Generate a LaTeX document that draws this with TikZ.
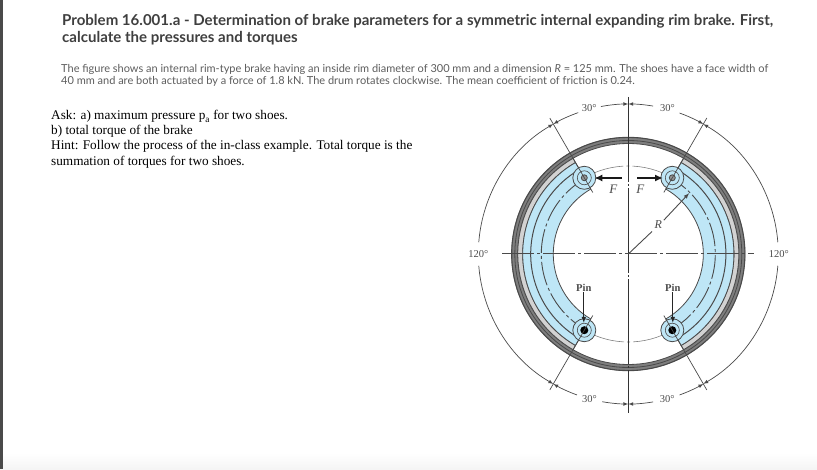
\documentclass[tikz,border=0pt]{standalone}
\usepackage{fontspec}
\setmainfont{Liberation Serif}
\newfontfamily\headfont{Lato}
\usetikzlibrary{arrows.meta}
\definecolor{shoeblue}{HTML}{BEE6F6}
\definecolor{rimgray}{HTML}{7E7E7E}
\definecolor{liningray}{HTML}{D2D2D2}
\definecolor{linegray}{HTML}{4A4A4A}
\definecolor{headgray}{HTML}{3F3F3F}
\tikzset{
  headtext/.style={anchor=base west, inner sep=0pt, text=headgray, font=\headfont\bfseries\fontsize{15.04}{17}\selectfont},
  bodytext/.style={anchor=base west, inner sep=0pt, text=headgray!85, font=\headfont\fontsize{11}{12}\selectfont},
  asktext/.style={anchor=base west, inner sep=0pt, text=black, font=\fontsize{13.25}{15}\selectfont},
  dimtext/.style={inner sep=0pt, text=linegray, font=\fontsize{10.5}{12}\selectfont},
  dimline/.style={draw=linegray, line width=0.7pt, >=latex},
  centerline/.style={draw=linegray, line width=1pt},
  shoeedge/.style={draw=linegray, line width=0.8pt},
  forcearrow/.style={black!90, line width=1.8pt, -{Latex[length=8pt,width=7pt]}},
  pinarrow/.style={draw=black!85, line width=0.9pt, -{Latex[length=6pt,width=4.5pt]}},
}
\begin{document}
\begin{tikzpicture}[x=1pt, y=1pt]
\useasboundingbox (0,0) rectangle (817,469);
\shade[top color=white, bottom color=black!4] (0,0) rectangle (817,16);
\fill[linegray] (0,0) rectangle (3,469);
% texts on the left
\node[headtext] (title1) at (62,443) {Problem 16.001.a - Determination of brake parameters for a symmetric internal expanding rim brake. First,};
\node[headtext] (title2) at (62,426) {calculate the pressures and torques};
\node[bodytext] (body1) at (61,396.5) {The figure shows an internal rim-type brake having an inside rim diameter of 300 mm and a dimension \textit{R} = 125 mm. The shoes have a face width of};
\node[bodytext] (body2) at (61,384) {40 mm and are both actuated by a force of 1.8 kN. The drum rotates clockwise. The mean coefficient of friction is 0.24.};
\node[asktext] (ask1) at (51,349) {Ask: a) maximum pressure p\textsubscript{a} for two shoes.};
\node[asktext] (ask2) at (51,334.5) {b) total torque of the brake};
\node[asktext] (ask3) at (51,319) {Hint: Follow the process of the in-class example. Total torque is the};
\node[asktext] (ask4) at (51,303.5) {summation of torques for two shoes.};
% the brake, polar coordinates round the drum centre
\begin{scope}[shift={(628.3,215)}]
\coordinate (center) at (0,0);
\coordinate (pinTL) at (120:88);
\coordinate (pinTR) at (60:88);
\coordinate (pinBL) at (240:88);
\coordinate (pinBR) at (-60:88);
% rim
\fill[rimgray, even odd rule] (0,0) circle (117) (0,0) circle (110.5);
\draw[linegray, line width=1.1pt] (0,0) circle (116.6);
\draw[linegray, line width=0.8pt] (0,0) circle (113.5);
\draw[linegray, line width=0.8pt] (0,0) circle (110.5);
% linings and shoes
\draw[shoeedge, fill=liningray] (120:105.6) arc (120:240:105.6) -- (240:110.5) arc (240:120:110.5) -- cycle;
\draw[shoeedge, fill=liningray] (-60:105.6) arc (-60:60:105.6) -- (60:110.5) arc (60:-60:110.5) -- cycle;
\draw[shoeedge, fill=shoeblue] (120:75) arc (120:240:75) -- (240:105.6) arc (240:120:105.6) -- cycle;
\draw[shoeedge, fill=shoeblue] (-60:75) arc (-60:60:75) -- (60:105.6) arc (60:-60:105.6) -- cycle;
\draw[shoeedge, line width=1pt] (120:97.6) arc (120:240:97.6);
\draw[shoeedge, line width=1pt] (-60:97.6) arc (-60:60:97.6);
\draw[dimline, line width=0.9pt, dash pattern=on 24pt off 3pt on 3pt off 3pt] (120:87) arc (120:240:87);
\draw[dimline, line width=0.9pt, dash pattern=on 24pt off 3pt on 3pt off 3pt] (-60:87) arc (-60:60:87);
% pitch circle between the pins
\draw[draw=linegray!70, line width=0.6pt, dash pattern=on 42pt off 3pt on 3pt off 3pt] (pinTR) arc (60:120:88);
\draw[draw=linegray!70, line width=0.6pt, dash pattern=on 42pt off 3pt on 3pt off 3pt] (pinBL) arc (240:300:88);
% pins
\draw[shoeedge, fill=shoeblue] (pinTL) circle (11.5);
\draw[shoeedge, fill=shoeblue] (pinTR) circle (11.5);
\draw[shoeedge, fill=shoeblue] (pinBL) circle (11.5);
\draw[shoeedge, fill=shoeblue] (pinBR) circle (11.5);
\draw[shoeedge, line width=0.6pt] (pinTL) circle (7);
\draw[shoeedge, line width=0.6pt] (pinTR) circle (7);
\draw[shoeedge, line width=0.6pt] (pinBL) circle (7);
\draw[shoeedge, line width=0.6pt] (pinBR) circle (7);
\draw[shoeedge, fill=liningray!70!black] (pinTL) circle (3);
\draw[shoeedge, fill=liningray!70!black] (pinTR) circle (3);
\fill[black] (pinBL) circle (4);
\fill[black] (pinBR) circle (4);
% radial lines through the pins
\coordinate (tickTL) at (120:157);
\coordinate (tickTR) at (60:157);
\coordinate (tickBL) at (240:157);
\coordinate (tickBR) at (-60:157);
\coordinate (footTL) at (120:71);
\coordinate (footTR) at (60:71);
\coordinate (footBL) at (240:71);
\coordinate (footBR) at (-60:71);
\draw[dimline] (footTL) -- (tickTL);
\draw[dimline] (footTR) -- (tickTR);
\draw[dimline] (footBL) -- (tickBL);
\draw[dimline] (footBR) -- (tickBR);
% centre lines
\coordinate (axisT) at (0,157);
\coordinate (axisB) at (0,-159);
\coordinate (axisL) at (-126,0);
\coordinate (axisR) at (126,0);
\draw[centerline, black!80, dash pattern=on 85pt off 2pt on 2pt off 2pt] (axisT) -- (axisB);
\draw[centerline, dash pattern=on 32pt off 3pt on 3pt off 3pt] (axisL) -- (axisR);
% dimensions
\draw[dimline, <-] (120:150) arc (120:175.5:150);
\draw[dimline, <-] (240:150) arc (240:184.5:150);
\draw[dimline, <-] (60:150) arc (60:4.5:150);
\draw[dimline, <-] (-60:150) arc (-60:-4.5:150);
\draw[dimline, <-] (120:150) arc (120:109.5:150);
\draw[dimline, <-] (90:150) arc (90:100.5:150);
\draw[dimline, <-] (60:150) arc (60:70:150);
\draw[dimline, <-] (90:150) arc (90:80.5:150);
\draw[dimline, <-] (240:150) arc (240:250:150);
\draw[dimline, <-] (270:150) arc (270:260:150);
\draw[dimline, <-] (-60:150) arc (-60:-70:150);
\draw[dimline, <-] (-90:150) arc (-90:-80.5:150);
\node[dimtext] (dimL) at (180:150) {120°};
\node[dimtext] (dimR) at (0:150.5) {120°};
\node[dimtext] (dimTL) at (105:151) {30°};
\node[dimtext] (dimTR) at (75:151) {30°};
\node[dimtext] (dimBL) at (255:150) {30°};
\node[dimtext] (dimBR) at (-75:150) {30°};
% forces
\coordinate (forceL) at (-6.6,76);
\coordinate (forceR) at (8.7,76);
\coordinate (forceLtip) at (-34,76);
\coordinate (forceRtip) at (34.7,76);
\draw[forcearrow] (forceL) -- (forceLtip);
\draw[forcearrow] (forceR) -- (forceRtip);
\node[dimtext, font=\itshape\fontsize{13}{14}\selectfont] (labelFL) at (-15,65) {F};
\node[dimtext, font=\itshape\fontsize{13}{14}\selectfont] (labelFR) at (12,65) {F};
% radius
\coordinate (rimR) at (45:86);
\coordinate (gapA) at (23.7,22.5);
\coordinate (gapB) at (35.5,33.8);
\node[dimtext, font=\itshape\fontsize{12}{14}\selectfont] (labelR) at (30,29) {R};
\draw[dimline, line width=0.9pt] (center) -- (gapA);
\draw[dimline, line width=0.9pt, ->] (gapB) -- (rimR);
% pin labels
\node[dimtext, font=\bfseries\fontsize{10.5}{12}\selectfont] (labelPL) at (-44.5,-34) {Pin};
\node[dimtext, font=\bfseries\fontsize{10.5}{12}\selectfont] (labelPR) at (44.5,-34) {Pin};
\coordinate (pinTipL) at (-44.5,-69);
\coordinate (pinTipR) at (44.5,-69);
\draw[pinarrow] (labelPL.south) -- (pinTipL);
\draw[pinarrow] (labelPR.south) -- (pinTipR);
\end{scope}
\end{tikzpicture}
\end{document}
